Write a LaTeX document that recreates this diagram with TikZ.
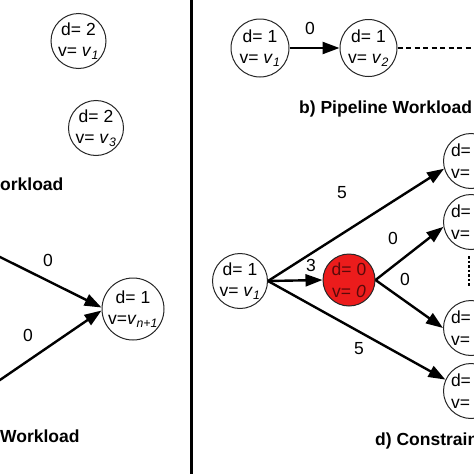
\documentclass[tikz,border=0pt]{standalone}
\usepackage{fontspec}
\setmainfont{Liberation Sans}
\usetikzlibrary{arrows.meta}
\definecolor{nodered}{RGB}{236,28,28}
\definecolor{redtext}{RGB}{90,10,10}
\newcommand{\vsub}[1]{\textit{v}\textsubscript{\textit{#1}}}
\begin{document}
\begin{tikzpicture}[x=1pt,y=-1pt,
  vnode/.style={circle,draw=black!85,line width=1pt,minimum size=55pt,inner sep=0pt,align=center,font=\fontsize{17.5}{21.5}\selectfont},
  arr/.style={line width=2.4pt,-{Triangle[length=17pt,width=12pt]}},
  lbl/.style={inner sep=0pt,font=\fontsize{17.5}{20}\selectfont},
  captxt/.style={inner sep=0pt,anchor=base west,font=\bfseries\fontsize{17.5}{20}\selectfont}]
\useasboundingbox (0,0) rectangle (474,474);
\clip (0,0) rectangle (474,474);
% divider
\draw[line width=3pt] (191.8,-5) -- (191.8,480);
% a) left top
\node[vnode] (a1) at (78.5,41) {d= 2\\v= \vsub{1}};
\node[vnode] (a3) at (96,128) {d= 2\\v= \vsub{3}};
\node[captxt] (capa) at (0,190) {orkload};
% c) bottom left
\node[vnode,minimum size=62pt] (cn) at (133,309) {d= 1\\v=\vsub{n+1}};
\coordinate (cin1) at (-3,255.5);
\coordinate (cin2) at (-3,382);
\draw[arr] (cin1) -- ([yshift=1.5pt]cn.west);
\draw[arr] (cin2) -- ([yshift=-1.5pt]cn.west);
\node[lbl] (lc1) at (48,260) {0};
\node[lbl] (lc2) at (28,335) {0};
\node[captxt] (capc) at (0,442) {Workload};
% b) pipeline
\node[vnode,minimum size=58pt] (p1) at (260,48) {d= 1\\v= \vsub{1}};
\node[vnode,minimum size=57pt] (p2) at (368.5,48) {d= 1\\v= \vsub{2}};
\coordinate (pend) at (480,48);
\draw[arr] (p1) -- (p2);
\draw[line width=2.4pt,dash pattern=on 5pt off 3.5pt] (p2.east) -- (pend);
\node[lbl] (lp) at (310,28) {0};
\node[captxt] (capb) at (299,113) {b) Pipeline Workload};
% d) constraint
\node[vnode] (c1) at (240,281) {d= 1\\v= \vsub{1}};
\node[vnode,fill=nodered,text=redtext,minimum size=52pt] (cr) at (349,280) {d= 0\\v= \textit{0}};
\node[vnode] (r1) at (471,161) {\makebox[40pt][l]{d=}\\\makebox[40pt][l]{v=}};
\node[vnode] (r2) at (471,222) {\makebox[40pt][l]{d=}\\\makebox[40pt][l]{v=}};
\node[vnode] (r3) at (471,328) {\makebox[40pt][l]{d=}\\\makebox[40pt][l]{v=}};
\node[vnode] (r4) at (471,391) {\makebox[40pt][l]{d=}\\\makebox[40pt][l]{v=}};
\coordinate (dtop) at (469,256);
\coordinate (dbot) at (469,286);
\draw[line width=2.6pt,dash pattern=on 2.5pt off 2pt] (dtop) -- (dbot);
\draw[arr] (c1.east) -- (cr.west);
\draw[arr] (c1.east) -- (r1.196);
\draw[arr] (c1.east) -- (r4.156);
\draw[arr] (cr.east) -- (r2.190);
\draw[arr] (cr.east) -- (r3.180);
\node[lbl] (l3) at (311,265) {3};
\node[lbl] (l5a) at (342,193) {5};
\node[lbl] (l5b) at (359,349) {5};
\node[lbl] (l0a) at (393,238) {0};
\node[lbl] (l0b) at (405,279) {0};
\node[captxt] (capd) at (375,445) {d) Constrain};
\end{tikzpicture}
\end{document}
